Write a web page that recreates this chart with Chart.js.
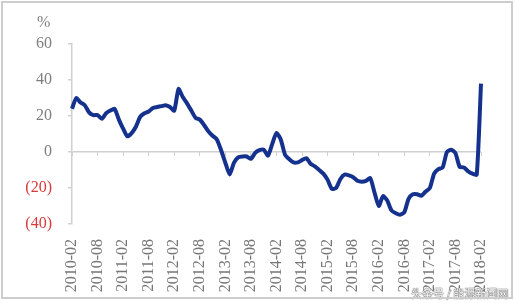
<!DOCTYPE html>
<html lang="zh">
<head>
<meta charset="UTF-8">
<title>Chart</title>
<script src="https://cdn.jsdelivr.net/npm/chart.js"></script>
<style>
  body { margin: 0; background: #fff; }
  #wrap { position: relative; width: 515px; height: 303px; }
  #frame {
    position: absolute; left: 1px; top: 1px; width: 512px; height: 298px;
    box-sizing: border-box; border: 2px solid #cdcdcd; pointer-events: none;
  }
  #unit {
    position: absolute; left: 37px; top: 13px;
    font: 16px "Liberation Serif", serif; color: #7f7f7f;
  }
  #mark {
    position: absolute; left: 411px; top: 285px; white-space: nowrap;
    font: 11px "Noto Sans CJK SC", sans-serif; color: #fff;
    text-shadow: 0 0 1px #555, 0 0 1px #555, 0 0 1px #555;
  }
</style>
</head>
<body>
<div id="wrap">
  <canvas id="c" width="515" height="303"></canvas>
  <div id="unit">%</div>
  <div id="mark">头条号 / 能源新闻网</div>
  <div id="frame"></div>
</div>
<script>
// Monthly labels 2010-02 .. 2018-02
const months = [];
for (let y = 2010, m = 2; y < 2018 || (y === 2018 && m <= 2); m++) {
  if (m > 12) { m = 1; y++; if (y === 2018 && m > 2) break; }
  months.push(y + '-' + String(m).padStart(2, '0'));
}

const yTicks = [-40, -20, 0, 20, 40, 60];

// % change
const values = [
  24, 30, 27.5, 26, 22, 20.5, 20.5, 18.5, 21.5, 23, 24, 18,
  13, 8.7, 10.5, 14, 19.5, 21.5, 22.5, 24.5, 25, 25.5, 26, 25,
  23, 35, 30.5, 27, 23, 19, 18, 15, 11.5, 9, 7, 1,
  -6, -12.5, -6, -3, -2.5, -2.5, -3.8, -0.5, 1, 1.3, -2, 4.5,
  10.5, 7, -1.5, -4, -5.8, -5.8, -4.5, -3.4, -6.5, -8, -10, -12,
  -15.5, -20.5, -20, -15, -12.5, -13, -14, -16, -16.5, -16, -14.5, -22.5,
  -30, -24.5, -27, -32.5, -34, -34.8, -33.5, -26, -23.5, -23.5, -24.3, -22,
  -20, -12, -9.5, -8.6, 0, 1.3, -0.6, -8.3, -8.6, -10.7, -12, -12.6, 38
];

const axisGray = '#d0d0d0';
const serif = '"Liberation Serif", serif';

new Chart(document.getElementById('c'), {
  type: 'line',
  data: {
    labels: months,
    datasets: [{
      data: values,
      borderColor: '#15318e',
      borderWidth: 4,
      pointRadius: 0,
      tension: 0.2,
      xAxisID: 'x',
      yAxisID: 'y'
    }]
  },
  options: {
    responsive: false,
    animation: false,
    layout: { padding: { left: 0, top: 44, right: 34, bottom: 0 } },
    plugins: { legend: { display: false }, tooltip: { enabled: false } },
    scales: {
      x: {
        type: 'category',
        position: 'bottom',
        grid: { display: false },
        border: { display: false },
        ticks: {
          autoSkip: false,
          minRotation: 90,
          maxRotation: 90,
          padding: 7,
          color: '#777',
          font: { family: serif, size: 16 },
          callback: (v, i) => (i % 6 === 0 ? months[i] : null)
        },
        afterFit: s => { s.height = 79; }
      },
      x2: {
        type: 'category',
        labels: months,
        position: { y: 0 },
        ticks: { display: false },
        border: { display: false },
        grid: {
          drawOnChartArea: false,
          drawTicks: true,
          tickLength: 4,
          tickColor: ctx => (ctx.index % 6 === 0 ? axisGray : 'transparent')
        }
      },
      y: {
        min: -40,
        max: 60,
        afterBuildTicks: s => { s.ticks = yTicks.map(v => ({ value: v })); },
        border: { display: true, color: axisGray, width: 1.5 },
        grid: {
          color: ctx => (ctx.tick && ctx.tick.value === 0 ? axisGray : 'transparent'),
          lineWidth: 1.5,
          tickColor: axisGray,
          tickLength: 4
        },
        ticks: {
          padding: 16,
          color: ctx => (ctx.tick.value < 0 ? '#d83a3a' : '#7f7f7f'),
          font: { family: serif, size: 16 },
          callback: v => (v < 0 ? '(' + (-v) + ')' : String(v))
        },
        afterFit: s => { s.width = 72; }
      }
    }
  }
});
</script>
</body>
</html>
